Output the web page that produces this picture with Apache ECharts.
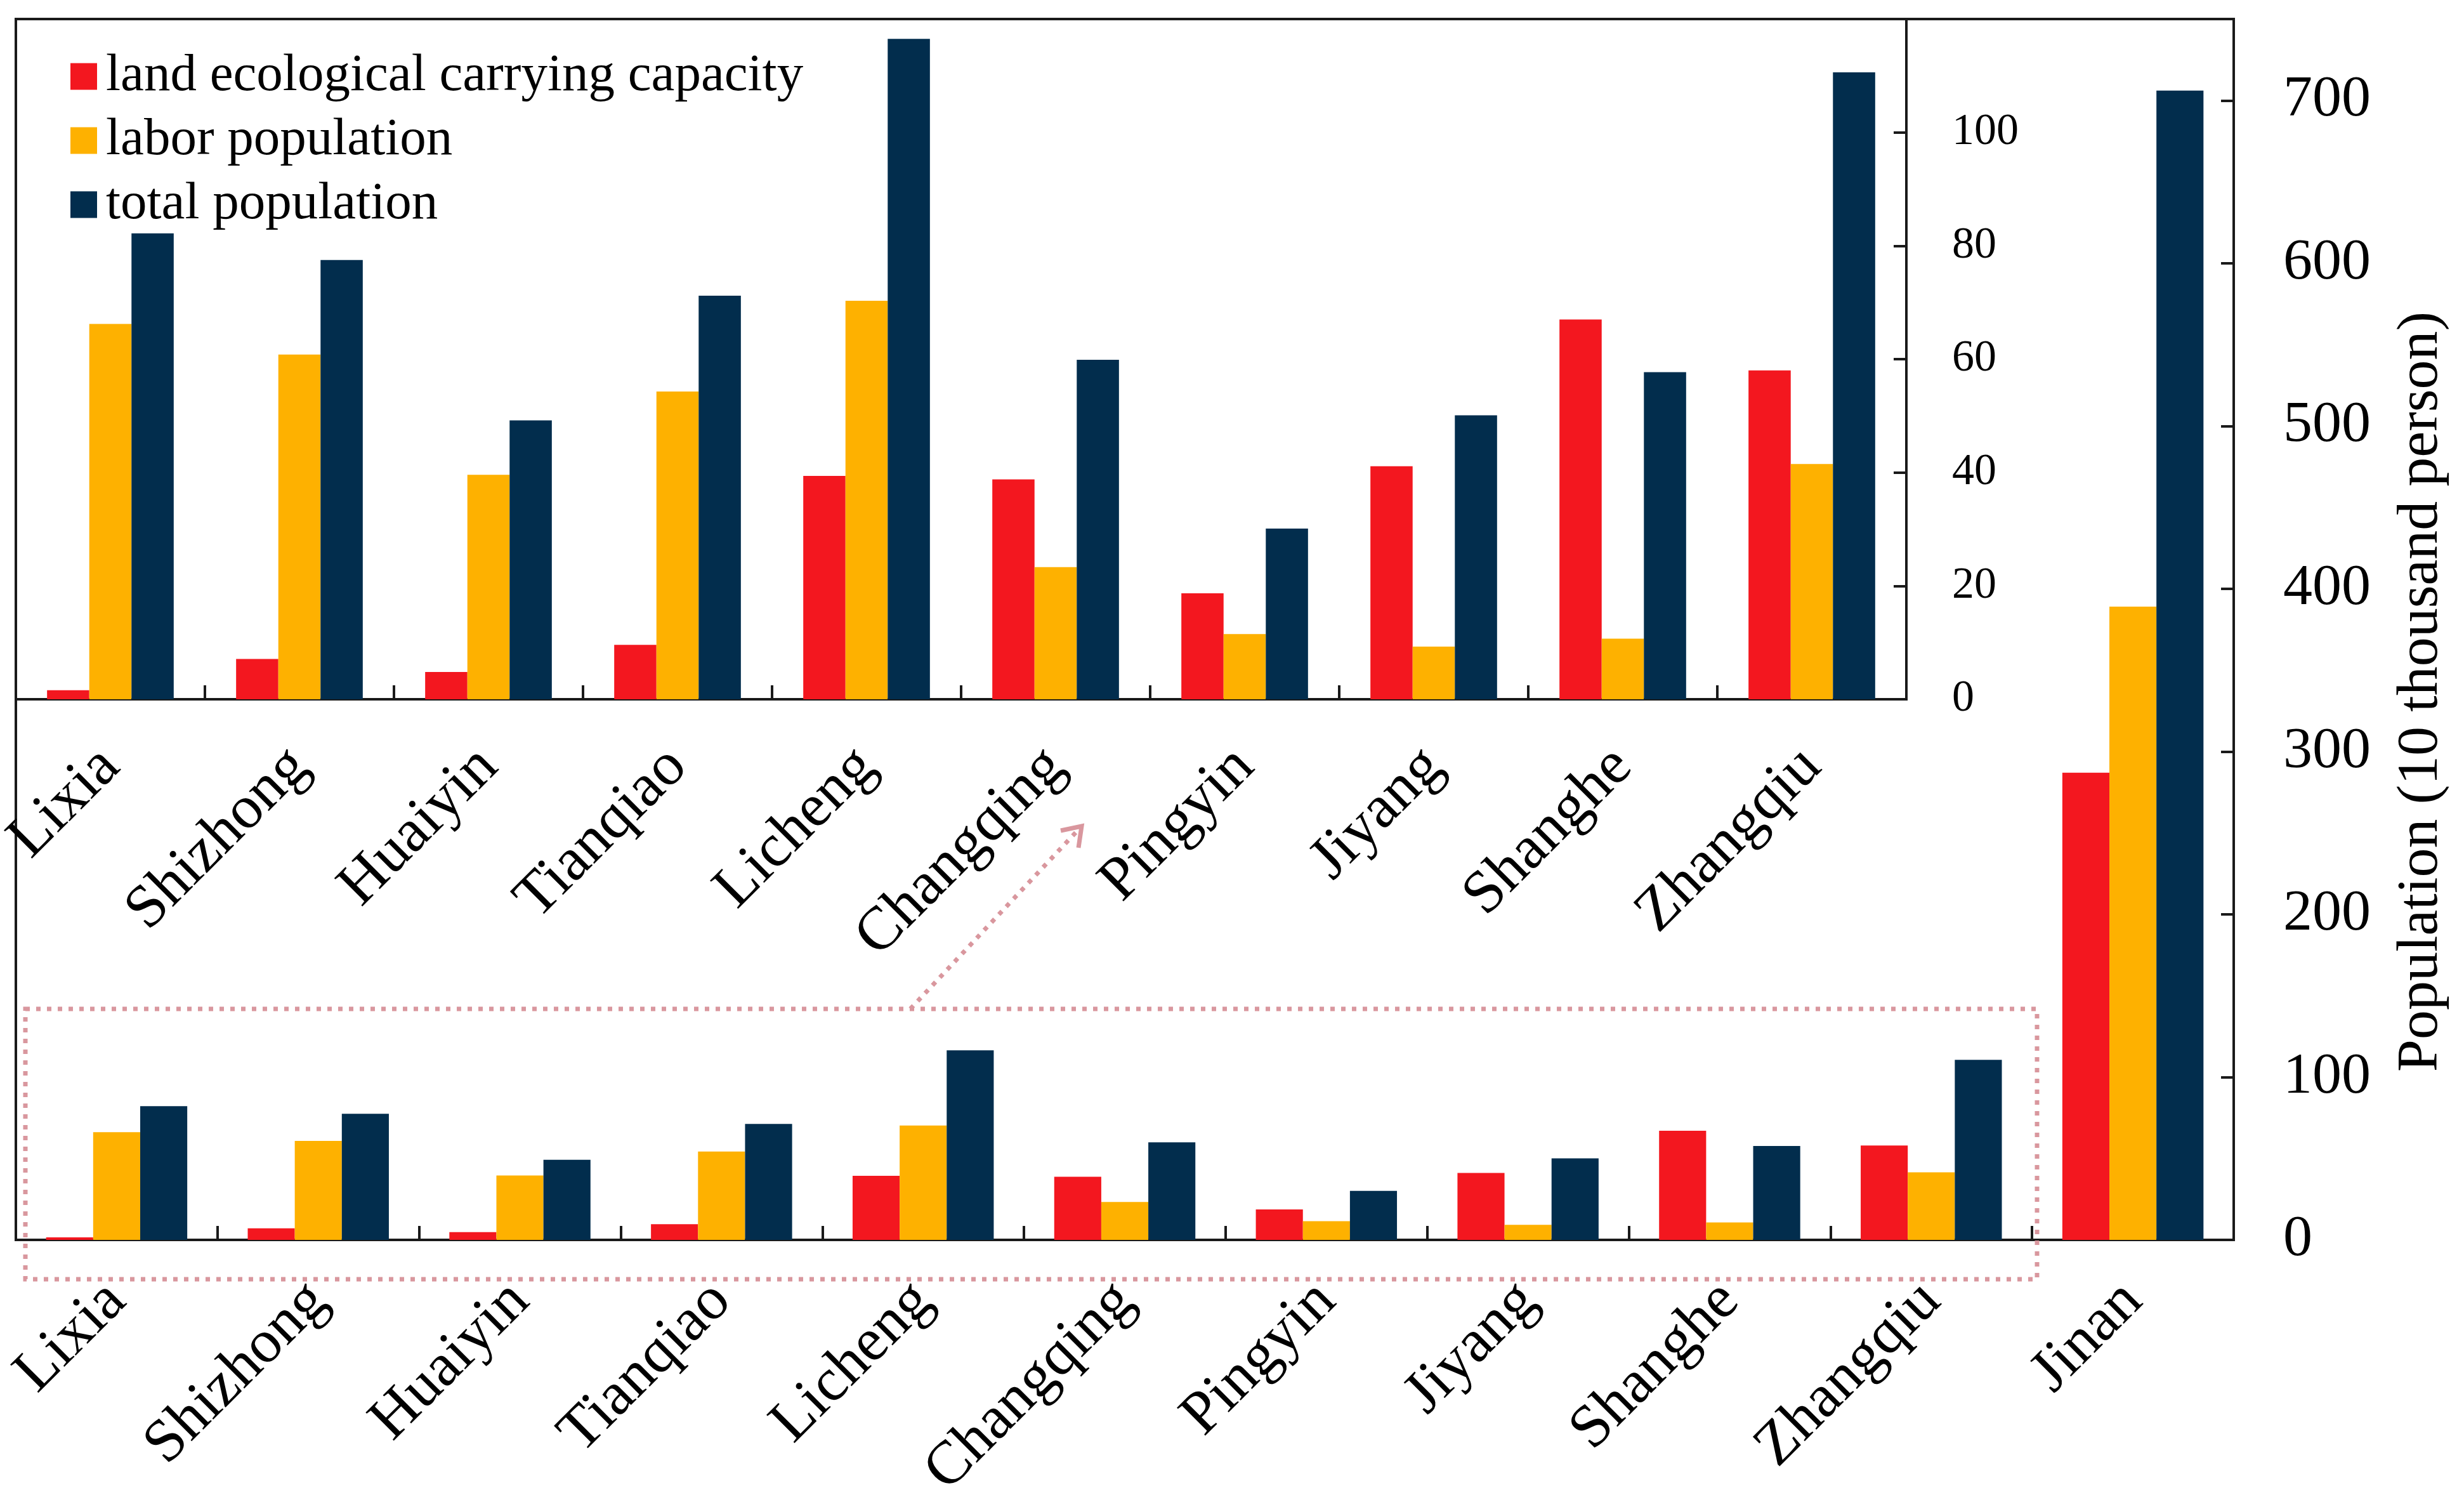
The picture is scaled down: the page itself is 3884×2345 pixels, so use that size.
<!DOCTYPE html>
<html>
<head>
<meta charset="utf-8">
<script src="https://cdn.jsdelivr.net/npm/echarts@6/dist/echarts.min.js"></script>
<style>
html,body{margin:0;padding:0;background:#fff;}
#chart{width:3884px;height:2345px;}
</style>
</head>
<body>
<div id="chart"></div>
<script>
// ---------- data ----------
const districts = ['Lixia','Shizhong','Huaiyin','Tianqiao','Licheng','Changqing','Pingyin','Jiyang','Shanghe','Zhangqiu'];
const cityName = 'Jinan';
const landCapacity = [1.6, 7.1, 4.8, 9.6, 39.4, 38.8, 18.7, 41.1, 67.0, 58.0];
const laborPopulation = [66.2, 60.8, 39.6, 54.3, 70.3, 23.3, 11.5, 9.3, 10.7, 41.5];
const totalPopulation = [82.2, 77.5, 49.2, 71.2, 116.5, 59.9, 30.1, 50.1, 57.7, 110.6];
const cityLandCapacity = 287;
const cityLaborPopulation = 389;
const cityTotalPopulation = 706;
const seriesNames = ['land ecological carrying capacity','labor population','total population'];
const mainTicks = [0,100,200,300,400,500,600,700];
const insetTicks = [0,20,40,60,80,100];

// ---------- style ----------
const FONT = 'Liberation Serif, Times New Roman, serif';
const colors = ['#f3171f','#feb100','#022d4d'];
const axisColor = '#1a1a1a';

const mainCats = districts.concat([cityName]);
const mainData = [
  landCapacity.concat([cityLandCapacity]),
  laborPopulation.concat([cityLaborPopulation]),
  totalPopulation.concat([cityTotalPopulation])
];
const insetData = [landCapacity, laborPopulation, totalPopulation];

const chart = echarts.init(document.getElementById('chart'), null, {renderer:'canvas'});

function catAxis(gridIndex, data, fs, margin){
  return {
    type:'category', gridIndex, data,
    boundaryGap:true,
    axisLine:{show:true, lineStyle:{color:axisColor, width:4}},
    axisTick:{show:true, inside:true, length:22, lineStyle:{color:axisColor, width:4}},
    axisLabel:{show:true, rotate:45, fontSize:fs, fontFamily:FONT, color:'#000', margin:margin, interval:0},
    splitLine:{show:false}
  };
}
function valAxis(gridIndex, max, interval, fs, margin){
  return {
    type:'value', gridIndex, position:'right', min:0, max, interval,
    axisLine:{show:true, lineStyle:{color:axisColor, width:4}},
    axisTick:{show:true, inside:true, length:20, lineStyle:{color:axisColor, width:4}},
    axisLabel:{show:true, fontSize:fs, fontFamily:FONT, color:'#000', margin:margin, showMaxLabel:false},
    splitLine:{show:false}
  };
}

const series = [];
for (let i=0;i<3;i++){
  series.push({
    name:seriesNames[i], type:'bar', xAxisIndex:0, yAxisIndex:0,
    data:mainData[i], itemStyle:{color:colors[i]},
    barGap:'0%', barCategoryGap:'30%', z:2
  });
}
for (let i=0;i<3;i++){
  series.push({
    name:seriesNames[i], type:'bar', xAxisIndex:1, yAxisIndex:1,
    data:insetData[i], itemStyle:{color:colors[i]},
    barGap:'0%', barCategoryGap:'33%', z:3
  });
}

const pink = '#d9979e';
const option = {
  animation:false,
  backgroundColor:'#fff',
  textStyle:{fontFamily:FONT},
  grid:[
    {left:25, top:30, right:363, bottom:391, show:true, borderColor:axisColor, borderWidth:4, backgroundColor:'transparent', containLabel:false, outerBoundsMode:'none'},
    {left:25, top:30, right:879, bottom:1243, show:true, borderColor:axisColor, borderWidth:4, backgroundColor:'transparent', containLabel:false, outerBoundsMode:'none'}
  ],
  xAxis:[catAxis(0, mainCats, 96, 82), catAxis(1, districts, 96, 92)],
  yAxis:[valAxis(0, 750, 100, 92, 78), valAxis(1, 120, 20, 70, 72)],
  legend:{
    show:true, orient:'vertical', left:106, top:74,
    itemWidth:42, itemHeight:42, itemGap:18, icon:'rect',
    data:seriesNames,
    textStyle:{fontSize:83, fontFamily:FONT, color:'#000', padding:[0,0,0,9]}
  },
  graphic:[
    {type:'text', x:3817, y:1090, rotation:Math.PI/2, silent:true,
     style:{text:'Population (10 thousand person)', fontSize:92, fontFamily:FONT, fill:'#000', align:'center', verticalAlign:'middle'}},
    {type:'rect', silent:true, z:10,
     shape:{x:40, y:1590, width:3171, height:426},
     style:{fill:'none', stroke:pink, lineWidth:7, lineDash:[7,10]}},
    {type:'polyline', silent:true, z:10,
     shape:{points:[[1435,1590],[1705,1302]]},
     style:{stroke:pink, lineWidth:7, lineDash:[7,10], fill:'none'}},
    {type:'polyline', silent:true, z:10,
     shape:{points:[[1672,1309],[1705,1302],[1700,1336]]},
     style:{stroke:pink, lineWidth:7, fill:'none'}}
  ],
  series
};
chart.setOption(option);
</script>
</body>
</html>
